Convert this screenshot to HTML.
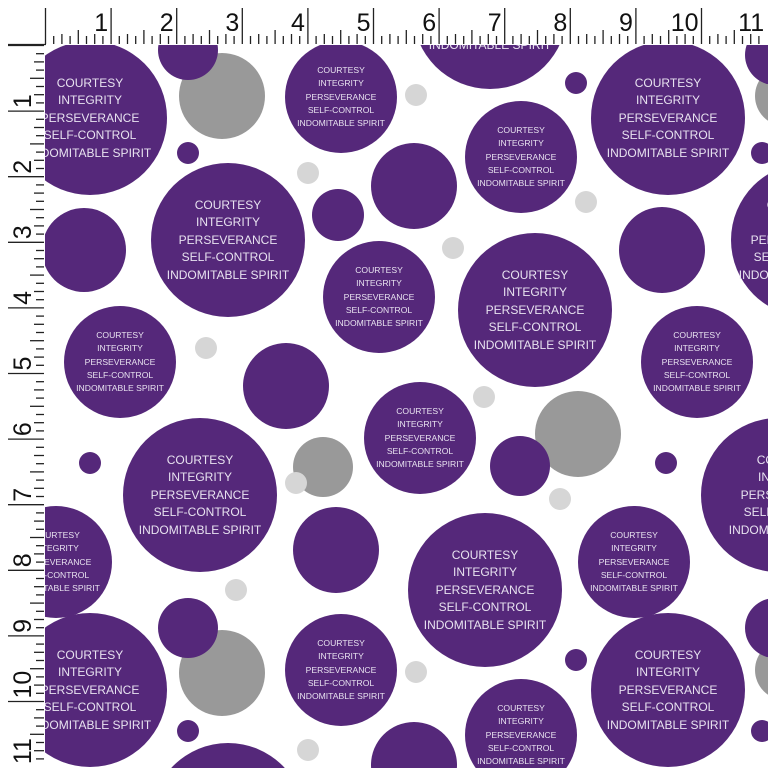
<!DOCTYPE html>
<html><head><meta charset="utf-8"><style>
html,body{margin:0;padding:0;background:#fff;width:768px;height:768px;overflow:hidden}
svg{display:block;overflow:hidden}
.t{font-family:"Liberation Sans",sans-serif;fill:#e8e2f0;text-anchor:middle}
.r{font-family:"Liberation Sans",sans-serif;fill:#111;font-size:25px}
</style></head><body>
<svg width="768" height="768" viewBox="0 0 768 768" xmlns="http://www.w3.org/2000/svg">
<defs><clipPath id="c"><rect width="768" height="768"/></clipPath></defs>
<rect width="768" height="768" fill="#fff"/>
<g id="pat" clip-path="url(#c)">
<g fill="#999">
<circle cx="222" cy="96" r="43"/><circle cx="578" cy="434" r="43"/><circle cx="323" cy="467" r="30"/>
<circle cx="222" cy="673" r="43"/><circle cx="785" cy="96" r="30"/><circle cx="785" cy="670" r="30"/>
</g>
<g fill="#d6d6d6">
<circle cx="416" cy="95" r="11"/><circle cx="308" cy="173" r="11"/><circle cx="586" cy="202" r="11"/>
<circle cx="453" cy="248" r="11"/><circle cx="206" cy="348" r="11"/><circle cx="484" cy="397" r="11"/>
<circle cx="296" cy="483" r="11"/><circle cx="560" cy="499" r="11"/><circle cx="236" cy="590" r="11"/>
<circle cx="416" cy="672" r="11"/><circle cx="308" cy="750" r="11"/>
</g>
<g fill="#55287a">
<circle cx="90" cy="118" r="77"/><circle cx="228" cy="240" r="77"/><circle cx="535" cy="310" r="77"/>
<circle cx="200" cy="495" r="77"/><circle cx="485" cy="590" r="77"/><circle cx="668" cy="118" r="77"/>
<circle cx="90" cy="690" r="77"/><circle cx="668" cy="690" r="77"/><circle cx="808" cy="240" r="77"/>
<circle cx="778" cy="495" r="77"/><circle cx="490" cy="12" r="77"/><circle cx="228" cy="820" r="77"/>
<circle cx="341" cy="97" r="56"/><circle cx="521" cy="157" r="56"/><circle cx="379" cy="297" r="56"/>
<circle cx="120" cy="362" r="56"/><circle cx="420" cy="438" r="56"/><circle cx="697" cy="362" r="56"/>
<circle cx="634" cy="562" r="56"/><circle cx="56" cy="562" r="56"/><circle cx="341" cy="670" r="56"/>
<circle cx="521" cy="735" r="56"/>
<circle cx="188" cy="50" r="30"/><circle cx="414" cy="186" r="43"/><circle cx="338" cy="215" r="26"/>
<circle cx="662" cy="250" r="43"/><circle cx="84" cy="250" r="42"/><circle cx="286" cy="386" r="43"/>
<circle cx="336" cy="550" r="43"/><circle cx="520" cy="466" r="30"/><circle cx="188" cy="628" r="30"/>
<circle cx="414" cy="765" r="43"/><circle cx="775" cy="55" r="30"/><circle cx="775" cy="628" r="30"/>
<circle cx="90" cy="463" r="11"/><circle cx="188" cy="153" r="11"/><circle cx="576" cy="83" r="11"/>
<circle cx="666" cy="463" r="11"/><circle cx="576" cy="660" r="11"/><circle cx="188" cy="731" r="11"/>
<circle cx="762" cy="731" r="11"/><circle cx="762" cy="153" r="11"/>
</g>
<g class="t" font-size="12">
<g transform="translate(90,118)"><text y="-31">COURTESY</text><text y="-14">INTEGRITY</text><text y="4">PERSEVERANCE</text><text y="21">SELF-CONTROL</text><text y="39">INDOMITABLE SPIRIT</text></g>
<g transform="translate(228,240)"><text y="-31">COURTESY</text><text y="-14">INTEGRITY</text><text y="4">PERSEVERANCE</text><text y="21">SELF-CONTROL</text><text y="39">INDOMITABLE SPIRIT</text></g>
<g transform="translate(535,310)"><text y="-31">COURTESY</text><text y="-14">INTEGRITY</text><text y="4">PERSEVERANCE</text><text y="21">SELF-CONTROL</text><text y="39">INDOMITABLE SPIRIT</text></g>
<g transform="translate(200,495)"><text y="-31">COURTESY</text><text y="-14">INTEGRITY</text><text y="4">PERSEVERANCE</text><text y="21">SELF-CONTROL</text><text y="39">INDOMITABLE SPIRIT</text></g>
<g transform="translate(485,590)"><text y="-31">COURTESY</text><text y="-14">INTEGRITY</text><text y="4">PERSEVERANCE</text><text y="21">SELF-CONTROL</text><text y="39">INDOMITABLE SPIRIT</text></g>
<g transform="translate(668,118)"><text y="-31">COURTESY</text><text y="-14">INTEGRITY</text><text y="4">PERSEVERANCE</text><text y="21">SELF-CONTROL</text><text y="39">INDOMITABLE SPIRIT</text></g>
<g transform="translate(90,690)"><text y="-31">COURTESY</text><text y="-14">INTEGRITY</text><text y="4">PERSEVERANCE</text><text y="21">SELF-CONTROL</text><text y="39">INDOMITABLE SPIRIT</text></g>
<g transform="translate(668,690)"><text y="-31">COURTESY</text><text y="-14">INTEGRITY</text><text y="4">PERSEVERANCE</text><text y="21">SELF-CONTROL</text><text y="39">INDOMITABLE SPIRIT</text></g>
<g transform="translate(800,240)"><text y="-31">COURTESY</text><text y="-14">INTEGRITY</text><text y="4">PERSEVERANCE</text><text y="21">SELF-CONTROL</text><text y="39">INDOMITABLE SPIRIT</text></g>
<g transform="translate(790,495)"><text y="-31">COURTESY</text><text y="-14">INTEGRITY</text><text y="4">PERSEVERANCE</text><text y="21">SELF-CONTROL</text><text y="39">INDOMITABLE SPIRIT</text></g>
<g transform="translate(490,10)"><text y="39">INDOMITABLE SPIRIT</text></g>
</g>
<g class="t" font-size="8.6">
<g transform="translate(341,97)"><text y="-24">COURTESY</text><text y="-11">INTEGRITY</text><text y="3">PERSEVERANCE</text><text y="16">SELF-CONTROL</text><text y="29">INDOMITABLE SPIRIT</text></g>
<g transform="translate(521,157)"><text y="-24">COURTESY</text><text y="-11">INTEGRITY</text><text y="3">PERSEVERANCE</text><text y="16">SELF-CONTROL</text><text y="29">INDOMITABLE SPIRIT</text></g>
<g transform="translate(379,297)"><text y="-24">COURTESY</text><text y="-11">INTEGRITY</text><text y="3">PERSEVERANCE</text><text y="16">SELF-CONTROL</text><text y="29">INDOMITABLE SPIRIT</text></g>
<g transform="translate(120,362)"><text y="-24">COURTESY</text><text y="-11">INTEGRITY</text><text y="3">PERSEVERANCE</text><text y="16">SELF-CONTROL</text><text y="29">INDOMITABLE SPIRIT</text></g>
<g transform="translate(420,438)"><text y="-24">COURTESY</text><text y="-11">INTEGRITY</text><text y="3">PERSEVERANCE</text><text y="16">SELF-CONTROL</text><text y="29">INDOMITABLE SPIRIT</text></g>
<g transform="translate(697,362)"><text y="-24">COURTESY</text><text y="-11">INTEGRITY</text><text y="3">PERSEVERANCE</text><text y="16">SELF-CONTROL</text><text y="29">INDOMITABLE SPIRIT</text></g>
<g transform="translate(634,562)"><text y="-24">COURTESY</text><text y="-11">INTEGRITY</text><text y="3">PERSEVERANCE</text><text y="16">SELF-CONTROL</text><text y="29">INDOMITABLE SPIRIT</text></g>
<g transform="translate(56,562)"><text y="-24">COURTESY</text><text y="-11">INTEGRITY</text><text y="3">PERSEVERANCE</text><text y="16">SELF-CONTROL</text><text y="29">INDOMITABLE SPIRIT</text></g>
<g transform="translate(341,670)"><text y="-24">COURTESY</text><text y="-11">INTEGRITY</text><text y="3">PERSEVERANCE</text><text y="16">SELF-CONTROL</text><text y="29">INDOMITABLE SPIRIT</text></g>
<g transform="translate(521,735)"><text y="-24">COURTESY</text><text y="-11">INTEGRITY</text><text y="3">PERSEVERANCE</text><text y="16">SELF-CONTROL</text><text y="29">INDOMITABLE SPIRIT</text></g>
</g>
</g>
<rect x="0" y="0" width="768" height="45" fill="#fff"/>
<rect x="0" y="0" width="45" height="768" fill="#fff"/>
<g id="ticks" stroke="#222" stroke-width="1.3"></g>
<line x1="8" y1="44.5" x2="46" y2="44.5" stroke="#222" stroke-width="1.3"/>
<g class="r" id="labs"></g>
<script>
var g=document.getElementById('ticks'),L=document.getElementById('labs'),ns='http://www.w3.org/2000/svg',o=45.5,s=65.6;
function ln(a,b,c,d){var e=document.createElementNS(ns,'line');e.setAttribute('x1',a);e.setAttribute('y1',b);e.setAttribute('x2',c);e.setAttribute('y2',d);g.appendChild(e);}
for(var i=0;i<=100;i++){var p=o+i*s/8;if(p>767)break;var k=i%8,len=k==0?36:(k==4?14:(k%2==0?10:8));
ln(p,44,p,44-len);ln(44,p,44-len,p);}
for(var n=1;n<=11;n++){var p=o+n*s;var t=document.createElementNS(ns,'text');t.setAttribute('x',p-3);t.setAttribute('y',31);t.setAttribute('text-anchor','end');t.textContent=n;L.appendChild(t);
var u=document.createElementNS(ns,'text');u.setAttribute('transform','translate(31,'+(p-3)+') rotate(-90)');u.textContent=n;L.appendChild(u);}
</script>
</svg>
</body></html>
